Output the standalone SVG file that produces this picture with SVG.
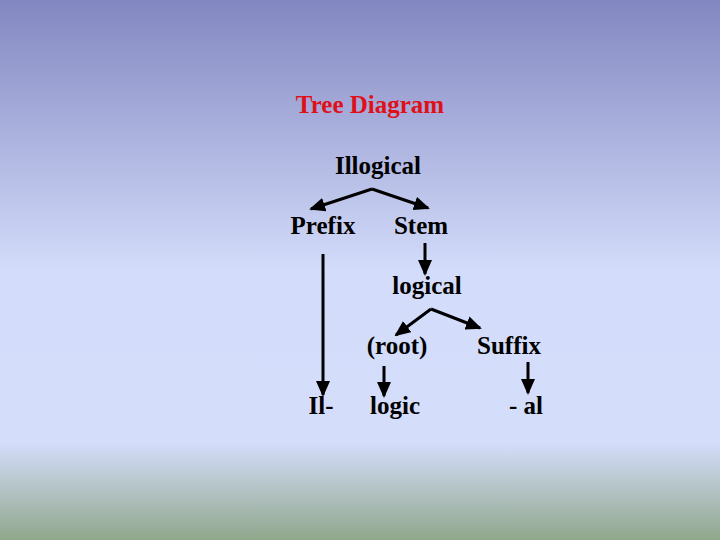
<svg xmlns="http://www.w3.org/2000/svg" width="720" height="540" viewBox="0 0 720 540">
<defs>
<linearGradient id="bg" x1="0" y1="0" x2="0" y2="1">
<stop offset="0" stop-color="#8387C1"/>
<stop offset="0.5" stop-color="#D3DCFA"/>
<stop offset="0.82" stop-color="#D4DDFA"/>
<stop offset="1" stop-color="#90A78C"/>
</linearGradient>
<marker id="ah" markerUnits="userSpaceOnUse" markerWidth="16" markerHeight="14" viewBox="0 0 16 14" refX="14" refY="7" orient="auto">
<path d="M0,0 L16,7 L0,14 z" fill="#000"/>
</marker>
<style>
.t{font-family:"Liberation Serif","Times New Roman",serif;font-weight:bold;font-size:25px;fill:#000;text-anchor:middle}
.title{fill:#E0101A}
.c{stroke:#000;stroke-width:3;fill:none;marker-end:url(#ah)}
</style>
</defs>
<rect width="720" height="540" fill="url(#bg)"/>
<g id="title"><text class="t title" x="370" y="113">Tree Diagram</text></g>
<g id="illogical"><text class="t" x="378" y="174">Illogical</text></g>
<g id="prefix"><text class="t" x="323" y="234">Prefix</text></g>
<g id="stem"><text class="t" x="421" y="234">Stem</text></g>
<g id="logical"><text class="t" x="427" y="294">logical</text></g>
<g id="root"><text class="t" x="397" y="354">(root)</text></g>
<g id="suffix"><text class="t" x="509" y="354">Suffix</text></g>
<g id="il"><text class="t" x="321" y="414">Il-</text></g>
<g id="logic"><text class="t" x="395" y="414">logic</text></g>
<g id="al"><text class="t" x="526" y="414">- al</text></g>
<g id="connectors">
<path class="c" d="M372,189 L311,209"/>
<path class="c" d="M372,189 L428,208"/>
<path class="c" d="M425,243 L425,274"/>
<path class="c" d="M323,254 L323,395"/>
<path class="c" d="M431,309 L396,335"/>
<path class="c" d="M431,309 L480,328"/>
<path class="c" d="M384,366 L384,396"/>
<path class="c" d="M528,362 L528,393"/>
</g>
</svg>
